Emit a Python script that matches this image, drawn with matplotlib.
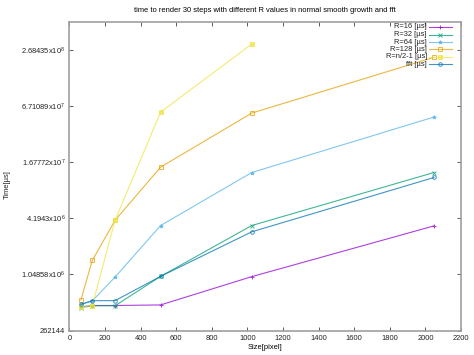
import matplotlib
matplotlib.use("Agg")
import matplotlib.pyplot as plt
from matplotlib.lines import Line2D

plt.rcParams['font.family'] = ['Liberation Sans', 'DejaVu Sans']
plt.rcParams['mathtext.fontset'] = 'custom'
plt.rcParams['mathtext.rm'] = 'Liberation Sans'

title = "time to render 30 steps with different R values in normal smooth growth and fft"
xlabel = "Size[pixel]"
ylabel = "Time[µs]"

sizes = [64, 128, 256, 512, 1024, 2048]
r16 = [469e3, 486e3, 486e3, 493e3, 991e3, 3.47e6]
r32 = [462e3, 483e3, 483e3, 998e3, 3.50e6, 12.96e6]
r64 = [495e3, 544e3, 981e3, 3.50e6, 12.96e6, 50.97e6]
r128 = [557e3, 1.479e6, 3.98e6, 14.8e6, 56.2e6, 222.8e6]
rhalf_sizes = [64, 128, 256, 512, 1024]
rhalf = [474e3, 483e3, 3.98e6, 57.6e6, 309e6]
fft = [502e3, 547e3, 548e3, 998e3, 2.996e6, 11.46e6]

series_labels = ["R=16 [µs]", "R=32 [µs]", "R=64 [µs]", "R=128 [µs]", "R=n/2-1 [µs]", "fft [µs]"]

xticks = [0, 200, 400, 600, 800, 1000, 1200, 1400, 1600, 1800, 2000, 2200]
yticks = [262144, 1048576, 4194304, 16777216, 67108864, 268435456]
yticklabels = ["262144", r"1.04858x10$^{6}$", r"4.1943x10$^{6}$",
               r"1.67772x10$^{7}$", r"6.71089x10$^{7}$", r"2.68435x10$^{8}$"]

colors = ["#9400d3", "#009e73", "#56b4e9", "#e69f00", "#f0e442", "#0072b2"]
markers = ["+", "x", "*", "s", "s", "o"]
mfcs = [None, None, None, "none", "#f0e442", "none"]

FS = 5.4
fig = plt.figure(figsize=(4.74, 3.55), dpi=100)
ax = fig.add_axes([0.1466, 0.069, 0.9726 - 0.1466, 0.9389 - 0.069])

data = [(sizes, r16), (sizes, r32), (sizes, r64), (sizes, r128), (rhalf_sizes, rhalf), (sizes, fft)]
for (xs, ys), c, m, mf in zip(data, colors, markers, mfcs):
    kw = dict(color=c, marker=m, markersize=2.6, linewidth=0.8, markeredgewidth=0.7, alpha=0.75)
    if mf is not None:
        kw['markerfacecolor'] = mf
    ax.plot(xs, ys, **kw)

ax.set_yscale('log')
ax.set_xlim(0, 2200)
ax.set_ylim(262144, 536870912)
ax.set_xticks(xticks)
ax.set_xticklabels([str(t) for t in xticks])
ax.set_yticks(yticks)
ax.set_yticklabels(yticklabels)
ax.minorticks_off()
ax.tick_params(direction='in', length=3, width=0.6, labelsize=FS, top=True, right=True,
               color='#404040', labelcolor='#222222', pad=3)
for s in ax.spines.values():
    s.set_color('#a0a0a0')
    s.set_linewidth(1.2)

ax.set_title(title, fontsize=FS, pad=7)
ax.set_xlabel(xlabel, fontsize=FS, labelpad=2)
fig.text(7 / 474, 1 - 185 / 355, ylabel, rotation=90, ha='center', va='center',
         fontsize=FS, color='#222222')

# gnuplot-style key: right-justified labels, then sample
row_y = [27.0, 34.5, 42.0, 49.3, 56.7, 64.0]
W, H = 474.0, 355.0
for lbl, yy, c, m, mf in zip(series_labels, row_y, colors, markers, mfcs):
    fy = 1 - yy / H
    fig.text(427 / W, fy, lbl, ha='right', va='center', fontsize=FS, color='#222222')
    kw = dict(color=c, marker=m, markersize=2.6, linewidth=0.8, markeredgewidth=0.7,
              alpha=0.75, transform=fig.transFigure, markevery=[1])
    if mf is not None:
        kw['markerfacecolor'] = mf
    fig.add_artist(Line2D([429 / W, 440 / W, 452 / W], [fy, fy, fy], **kw))

fig.savefig("out.png", dpi=100)
